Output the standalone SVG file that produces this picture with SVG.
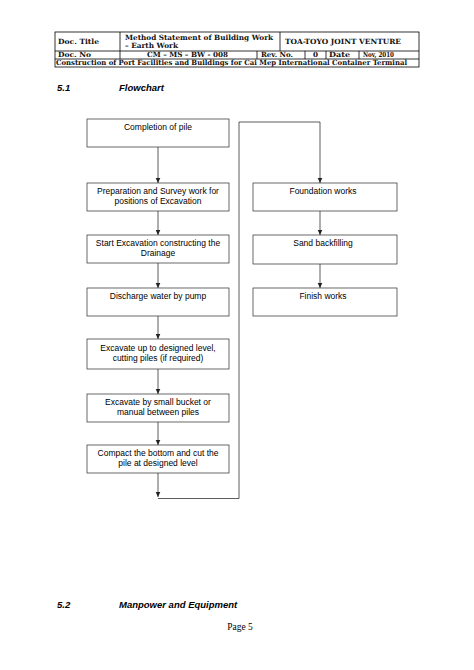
<svg xmlns="http://www.w3.org/2000/svg" width="474" height="670" viewBox="0 0 474 670">
<style>
.hd{font-family:"DejaVu Serif","Liberation Serif",serif;font-weight:bold;font-size:7.2px;fill:#111}
.bx{fill:#fff;stroke:#444;stroke-width:0.8}
.tx{font-family:"Liberation Sans",Arial,sans-serif;font-size:8.5px;fill:#000;text-anchor:middle}
.sec{font-family:"Liberation Sans",Arial,sans-serif;font-size:9.5px;font-weight:bold;font-style:italic;fill:#000}
.ln{fill:none;stroke:#333;stroke-width:0.8}
.tb{fill:none;stroke:#000;stroke-width:0.8}
</style>
<defs>
<marker id="ah" markerWidth="6" markerHeight="6" refX="5" refY="3" orient="auto" markerUnits="userSpaceOnUse">
<path d="M0,0.7 L5,3 L0,5.3 Z" fill="#222"/>
</marker>
</defs>
<rect width="474" height="670" fill="#fff"/>
<g id="header">
<rect class="tb" x="55" y="32" width="364" height="35"/>
<line class="tb" x1="55" y1="51" x2="419" y2="51"/>
<line class="tb" x1="55" y1="59" x2="419" y2="59"/>
<line class="tb" x1="120" y1="32" x2="120" y2="59"/>
<line class="tb" x1="280" y1="32" x2="280" y2="51"/>
<line class="tb" x1="257" y1="51" x2="257" y2="59"/>
<line class="tb" x1="305" y1="51" x2="305" y2="59"/>
<line class="tb" x1="326" y1="51" x2="326" y2="59"/>
<line class="tb" x1="359" y1="51" x2="359" y2="59"/>
<text class="hd" x="58" y="44" textLength="41" lengthAdjust="spacingAndGlyphs">Doc. Title</text>
<text class="hd" x="125" y="39.5" textLength="148" lengthAdjust="spacingAndGlyphs">Method Statement of Building Work</text>
<text class="hd" x="125" y="48" textLength="53" lengthAdjust="spacingAndGlyphs">– Earth Work</text>
<text class="hd" x="285" y="44" textLength="116" lengthAdjust="spacingAndGlyphs">TOA-TOYO JOINT VENTURE</text>
<text class="hd" x="58" y="57.3" textLength="33" lengthAdjust="spacingAndGlyphs">Doc. No</text>
<text class="hd" x="147" y="57.3" textLength="81" lengthAdjust="spacingAndGlyphs">CM – MS – BW - 008</text>
<text class="hd" x="261" y="57.3" textLength="32" lengthAdjust="spacingAndGlyphs">Rev. No.</text>
<text class="hd" x="313" y="57.3">0</text>
<text class="hd" x="329" y="57.3" textLength="21" lengthAdjust="spacingAndGlyphs">Date</text>
<text class="hd" x="363" y="57.3" textLength="31" lengthAdjust="spacingAndGlyphs">Nov, 2010</text>
<text class="hd" x="56" y="65.2" font-size="6.2" textLength="351" lengthAdjust="spacingAndGlyphs">Construction of Port Facilities and Buildings for Cai Mep International Container Terminal</text>
</g>
<g id="sec51">
<text class="sec" x="57" y="91">5.1</text>
<text class="sec" x="119" y="91">Flowchart</text>
</g>
<g id="n1"><rect class="bx" x="87" y="119" width="142" height="28"/><text class="tx" x="158" y="130">Completion of pile</text></g>
<g id="n2"><rect class="bx" x="87" y="183" width="142" height="28"/><text class="tx" x="158" y="194">Preparation and Survey work for</text><text class="tx" x="158" y="204">positions of Excavation</text></g>
<g id="n3"><rect class="bx" x="87" y="235" width="142" height="28"/><text class="tx" x="158" y="246">Start Excavation constructing the</text><text class="tx" x="158" y="256">Drainage</text></g>
<g id="n4"><rect class="bx" x="87" y="288" width="142" height="28"/><text class="tx" x="158" y="299">Discharge water by pump</text></g>
<g id="n5"><rect class="bx" x="87" y="339" width="142" height="30"/><text class="tx" x="158" y="351">Excavate up to designed level,</text><text class="tx" x="158" y="361">cutting piles (if required)</text></g>
<g id="n6"><rect class="bx" x="87" y="394" width="142" height="28"/><text class="tx" x="158" y="405">Excavate by small bucket or</text><text class="tx" x="158" y="415">manual between piles</text></g>
<g id="n7"><rect class="bx" x="87" y="445" width="142" height="28"/><text class="tx" x="158" y="456">Compact the bottom and cut the</text><text class="tx" x="158" y="466">pile at designed level</text></g>
<g id="n8"><rect class="bx" x="253" y="183" width="144" height="28"/><text class="tx" x="323" y="194">Foundation works</text></g>
<g id="n9"><rect class="bx" x="253" y="235" width="144" height="29"/><text class="tx" x="323" y="246">Sand backfilling</text></g>
<g id="n10"><rect class="bx" x="253" y="288" width="144" height="28"/><text class="tx" x="323" y="299">Finish works</text></g>
<g id="connectors">
<line class="ln" x1="158" y1="147" x2="158" y2="183" marker-end="url(#ah)"/>
<line class="ln" x1="158" y1="211" x2="158" y2="235" marker-end="url(#ah)"/>
<line class="ln" x1="158" y1="263" x2="158" y2="288" marker-end="url(#ah)"/>
<line class="ln" x1="158" y1="316" x2="158" y2="339" marker-end="url(#ah)"/>
<line class="ln" x1="158" y1="369" x2="158" y2="394" marker-end="url(#ah)"/>
<line class="ln" x1="158" y1="422" x2="158" y2="445" marker-end="url(#ah)"/>
<line class="ln" x1="158" y1="473" x2="158" y2="497" marker-end="url(#ah)"/>
<polyline class="ln" points="158,498.5 239,498.5 239,122 320,122 320,183" marker-end="url(#ah)"/>
<line class="ln" x1="320" y1="211" x2="320" y2="235" marker-end="url(#ah)"/>
<line class="ln" x1="320" y1="264" x2="320" y2="288" marker-end="url(#ah)"/>
</g>
<g id="sec52">
<text class="sec" x="57" y="608">5.2</text>
<text class="sec" x="119" y="608">Manpower and Equipment</text>
</g>
<text x="240" y="630" text-anchor="middle" font-family="Liberation Serif, serif" font-size="9.5">Page 5</text>
</svg>
